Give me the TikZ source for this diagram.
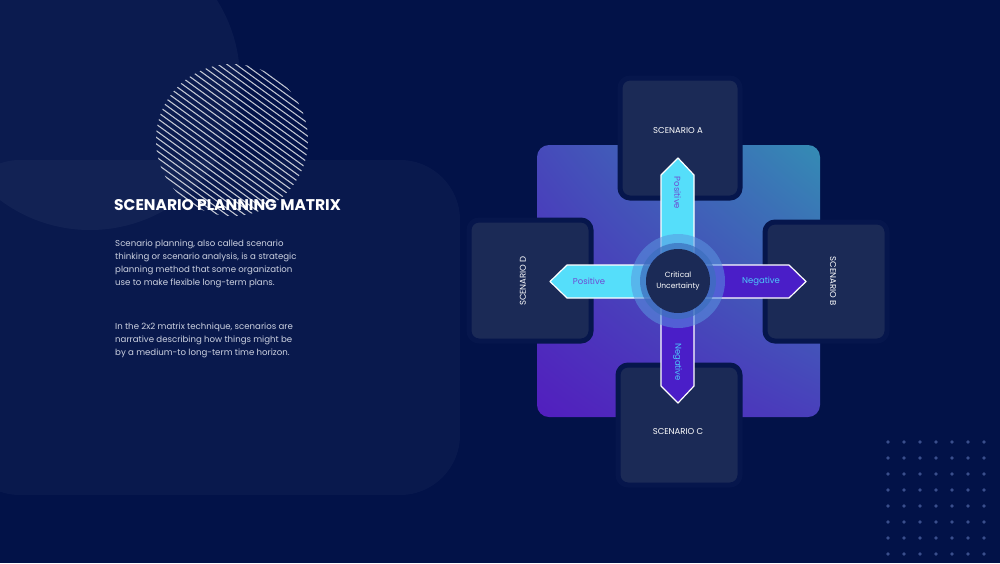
\documentclass[tikz,border=0pt]{standalone}
\usepackage{fontspec}
\setmainfont{Poppins}
\usetikzlibrary{calc,shadings}
\definecolor{bg}{RGB}{2,18,72}
\definecolor{boxc}{RGB}{27,42,86}
\definecolor{boxb}{RGB}{6,22,76}
\definecolor{cyanc}{RGB}{85,222,250}
\definecolor{purc}{RGB}{74,30,200}
\definecolor{tealc}{RGB}{52,140,180}
\definecolor{violc}{RGB}{82,30,190}
\definecolor{dotc}{RGB}{58,78,140}
\definecolor{bodyc}{RGB}{205,210,225}
\definecolor{ring1}{RGB}{90,150,225}
\definecolor{ring2}{RGB}{60,110,190}
\tikzset{
  scen/.style={draw=boxb,line width=5pt,fill=boxc,rounded corners=10pt},
  scentxt/.style={text=white,font=\fontsize{8.5}{10}\selectfont},
  arr/.style={draw=white,line width=1.2pt,line join=round},
  body/.style={text=bodyc,anchor=north west,align=left,font=\fontsize{8.6}{13}\selectfont,inner sep=0pt},
}
\begin{document}
\begin{tikzpicture}[x=1pt,y=-1pt]
\fill[bg] (0,0) rectangle (1000,563);
\useasboundingbox (0,0) rectangle (1000,563);
% soft background shapes
\fill[white,opacity=0.04] (90,80) circle (150);
\fill[white,opacity=0.03,rounded corners=60pt] (-40,160) rectangle (460,495);
% striped circle
\begin{scope}
\clip (232,140) circle (76);
\foreach \i in {-14,...,14}{
  \draw[white,line width=1.1pt,opacity=0.75] ($(232,140)+(\i*9,0)+(-110,-80)$) -- ++(220,160);
}
\end{scope}
% title and text
\node[anchor=west,text=white,font=\bfseries\fontsize{15.5}{18}\selectfont,inner sep=0pt] (title) at (114,205) {SCENARIO PLANNING MATRIX};
\node[body] (p1) at (115,240) {Scenario planning, also called scenario\\thinking or scenario analysis, is a strategic\\planning method that some organization\\use to make flexible long-term plans.};
\node[body] (p2) at (115,323) {In the 2x2 matrix technique, scenarios are\\narrative describing how things might be\\by a medium-to long-term time horizon.};
% gradient square
\shade[rounded corners=12pt,upper right=tealc,lower left=violc,upper left=violc!60!tealc,lower right=violc!70!tealc] (537,145) rectangle (820,417);
% scenario boxes
\draw[scen] (620,78) rectangle (740,198);
\draw[scen] (765,222) rectangle (887,341);
\draw[scen] (618,365) rectangle (740,485);
\draw[scen] (469,220) rectangle (591,341);
\node[scentxt] (sa) at (678,131) {SCENARIO A};
\node[scentxt] (sc) at (678,432) {SCENARIO C};
\node[scentxt,rotate=90] (sd) at (523,281) {SCENARIO D};
\node[scentxt,rotate=-90] (sb) at (833,281) {SCENARIO B};
% arrows
\draw[arr,fill=cyanc] (661,281) -- (661,175) -- (678,158) -- (694,175) -- (694,281) -- cycle;
\draw[arr,fill=purc] (661,281) -- (661,386) -- (678,403) -- (694,386) -- (694,281) -- cycle;
\draw[arr,fill=cyanc] (678,265) -- (567,265) -- (550,281.5) -- (567,298) -- (678,298) -- cycle;
\draw[arr,fill=purc] (678,265) -- (789,265) -- (806,281.5) -- (789,298) -- (678,298) -- cycle;
\node[text=purc!80!white,rotate=-90,font=\fontsize{8.5}{10}\selectfont] (pt) at (677.5,193) {Positive};
\node[text=cyanc!90!blue,rotate=-90,font=\fontsize{8.5}{10}\selectfont] (nb) at (677.5,362) {Negative};
\node[text=purc!80!white,font=\fontsize{8.5}{10}\selectfont] (pl) at (589,281.5) {Positive};
\node[text=cyanc!90!blue,font=\fontsize{8.5}{10}\selectfont] (nr) at (761,281.5) {Negative};
% centre
\fill[ring1,opacity=0.55] (678,281) circle (47);
\fill[ring2,opacity=0.7] (678,281) circle (38);
\node[circle,fill=boxc,minimum size=64pt,inner sep=0pt,text=white,align=center,font=\fontsize{7.5}{11}\selectfont] (cu) at (678,281) {Critical\\Uncertainty};
% dots
\foreach \c in {0,...,6}{\foreach \r in {0,...,7}{
  \fill[dotc] (888+\c*16,442+\r*16) circle (1.8);
}}
\end{tikzpicture}
\end{document}
